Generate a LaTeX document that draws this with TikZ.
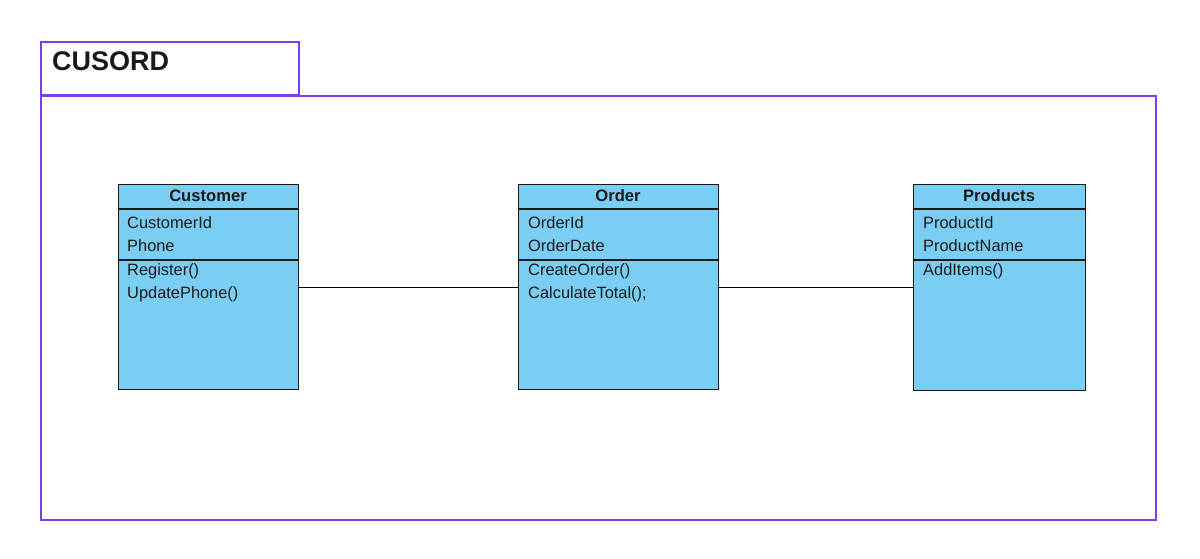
\documentclass[tikz,border=0pt]{standalone}
\usepackage{fontspec}
\setmainfont{Liberation Sans}
\definecolor{frame}{HTML}{7B3FE4}
\definecolor{cls}{HTML}{7ACEF4}
\definecolor{ink}{HTML}{1A1A1A}
\begin{document}
\begin{tikzpicture}[x=1pt,y=-1pt,
  pkg/.style={draw=frame,line width=1.6pt},
  classbox/.style={draw=ink,fill=cls,line width=1.1pt,inner sep=0pt,anchor=north west},
  sep/.style={draw=ink,line width=1.1pt},
  title/.style={font=\fontsize{16.6}{18}\selectfont\bfseries,text=ink,anchor=center,inner sep=0pt},
  item/.style={font=\fontsize{16.4}{18}\selectfont,text=ink,anchor=west,inner sep=0pt},
  link/.style={draw=black,line width=1pt}]
\useasboundingbox (0,0) rectangle (1200,559);
% package
\node[pkg,minimum width=258pt,minimum height=53pt,anchor=north west,inner sep=0pt] (tab) at (40,41) {};
\node[pkg,minimum width=1115pt,minimum height=424pt,anchor=north west,inner sep=0pt] (frm) at (40,95) {};
\node[font=\fontsize{27}{30}\selectfont\bfseries,text=ink,anchor=west,inner sep=0pt] (pkgname) at (52,61) {CUSORD};
% Customer
\node[classbox,minimum width=180pt,minimum height=205pt] (cust) at (118,184) {};
\draw[sep] (118,209) -- (298,209);
\draw[sep] (118,260) -- (298,260);
\node[title] (custT) at (208,196) {Customer};
\node[item] (c1) at (127,223) {CustomerId};
\node[item] (c2) at (127,246) {Phone};
\node[item] (c3) at (127,271) {Register()};
\node[item] (c4) at (127,294) {UpdatePhone()};
% Order
\node[classbox,minimum width=200pt,minimum height=205pt] (ord) at (518,184) {};
\draw[sep] (518,209) -- (718,209);
\draw[sep] (518,260) -- (718,260);
\node[title] (ordT) at (618,196) {Order};
\node[item] (o1) at (528,223) {OrderId};
\node[item] (o2) at (528,246) {OrderDate};
\node[item] (o3) at (528,271) {CreateOrder()};
\node[item] (o4) at (528,294) {CalculateTotal();};
% Products
\node[classbox,minimum width=172pt,minimum height=206pt] (prod) at (913,184) {};
\draw[sep] (913,209) -- (1085,209);
\draw[sep] (913,260) -- (1085,260);
\node[title] (prodT) at (999,196) {Products};
\node[item] (p1) at (923,223) {ProductId};
\node[item] (p2) at (923,246) {ProductName};
\node[item] (p3) at (923,271) {AddItems()};
% connectors
\coordinate (ly) at (0,287);
\draw[link] (cust.east |- ly) -- (ord.west |- ly);
\draw[link] (ord.east |- ly) -- (prod.west |- ly);
\end{tikzpicture}
\end{document}
